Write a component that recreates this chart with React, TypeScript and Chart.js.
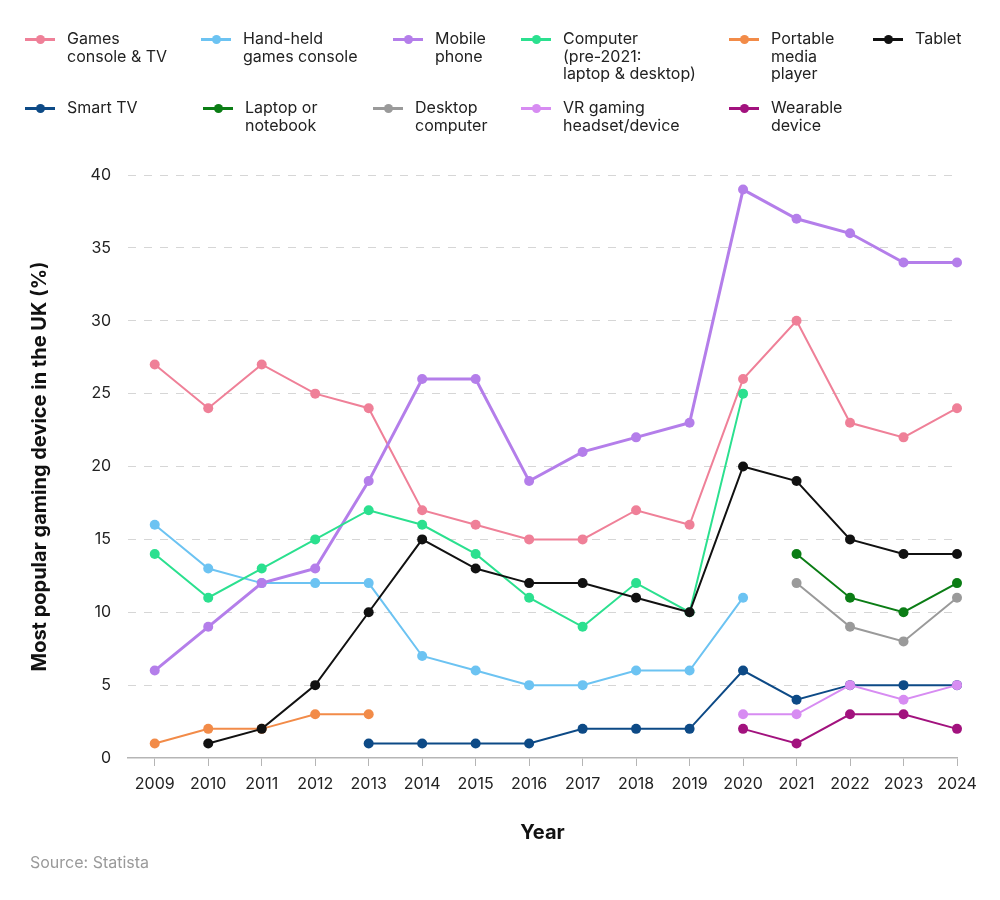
import React, { useEffect, useRef } from "react";
import { Chart, registerables } from "chart.js";

Chart.register(...registerables);

// Survey years on the x axis
const years = [2009, 2010, 2011, 2012, 2013, 2014, 2015, 2016, 2017, 2018, 2019, 2020, 2021, 2022, 2023, 2024];

// Share of respondents naming each device as their main gaming device (%)
const gamesConsoleTv = [27, 24, 27, 25, 24, 17, 16, 15, 15, 17, 16, 26, 30, 23, 22, 24];
const handHeldConsole = [16, 13, 12, 12, 12, 7, 6, 5, 5, 6, 6, 11, null, null, null, null];
const mobilePhone = [6, 9, 12, 13, 19, 26, 26, 19, 21, 22, 23, 39, 37, 36, 34, 34];
const computer = [14, 11, 13, 15, 17, 16, 14, 11, 9, 12, 10, 25, null, null, null, null];
const portableMediaPlayer = [1, 2, 2, 3, 3, null, null, null, null, null, null, null, null, null, null, null];
const tablet = [null, 1, 2, 5, 10, 15, 13, 12, 12, 11, 10, 20, 19, 15, 14, 14];
const smartTv = [null, null, null, null, 1, 1, 1, 1, 2, 2, 2, 6, 4, 5, 5, 5];
const laptop = [null, null, null, null, null, null, null, null, null, null, null, null, 14, 11, 10, 12];
const desktop = [null, null, null, null, null, null, null, null, null, null, null, null, 12, 9, 8, 11];
const vrHeadset = [null, null, null, null, null, null, null, null, null, null, null, 3, 3, 5, 4, 5];
const wearable = [null, null, null, null, null, null, null, null, null, null, null, 2, 1, 3, 3, 2];

const yTicks = [0, 5, 10, 15, 20, 25, 30, 35, 40];

type Series = { label: string[]; values: (number | null)[]; color: string; width?: number };

const series: Series[] = [
  { label: ["Games", "console & TV"], values: gamesConsoleTv, color: "#EF8098" },
  { label: ["Hand-held", "games console"], values: handHeldConsole, color: "#6CC3F2" },
  { label: ["Mobile", "phone"], values: mobilePhone, color: "#B47EEA", width: 3 },
  { label: ["Computer", "(pre-2021:", "laptop & desktop)"], values: computer, color: "#2BE08F" },
  { label: ["Portable", "media", "player"], values: portableMediaPlayer, color: "#F28B48" },
  { label: ["Tablet"], values: tablet, color: "#111111" },
  { label: ["Smart TV"], values: smartTv, color: "#0D4A86" },
  { label: ["Laptop or", "notebook"], values: laptop, color: "#0B7D15" },
  { label: ["Desktop", "computer"], values: desktop, color: "#9A9A9A" },
  { label: ["VR gaming", "headset/device"], values: vrHeadset, color: "#D78CF2" },
  { label: ["Wearable", "device"], values: wearable, color: "#A2127E" },
];

// Legend rows: text left edge for each item
const legendRows = [
  { top: 30, xs: [67, 243, 435, 563, 771, 915], items: [0, 1, 2, 3, 4, 5] },
  { top: 99, xs: [67, 245, 415, 563, 771], items: [6, 7, 8, 9, 10] },
];

const FONT = "Inter, 'Noto Sans', sans-serif";

function LegendItem({ s, left, top }: { s: Series; left: number; top: number }) {
  return (
    <div style={{ position: "absolute", left: left - 42, top }}>
      <div style={{ position: "absolute", left: 0, top: 8, width: 30, height: 3, background: s.color }} />
      <div
        style={{
          position: "absolute",
          left: 10.5,
          top: 5,
          width: 9,
          height: 9,
          borderRadius: 4.5,
          background: s.color,
        }}
      />
      <div
        style={{
          position: "absolute",
          left: 42,
          top: 0,
          whiteSpace: "nowrap",
          fontFamily: FONT,
          fontSize: 16,
          lineHeight: "17.5px",
          color: "#222",
        }}
      >
        {s.label.map((l, i) => (
          <div key={i}>{l}</div>
        ))}
      </div>
    </div>
  );
}

export default function App() {
  const canvasRef = useRef<HTMLCanvasElement | null>(null);

  useEffect(() => {
    const canvas = canvasRef.current;
    if (!canvas) return;
    const chart = new Chart(canvas, {
      type: "line",
      data: {
        datasets: series.map((s, i) => ({
          label: s.label.join(" "),
          data: years.map((y, j) => ({ x: y, y: s.values[j] })),
          borderColor: s.color,
          backgroundColor: s.color,
          borderWidth: s.width ?? 2,
          pointRadius: 5,
          pointHoverRadius: 5,
          pointBorderWidth: 0,
          spanGaps: false,
          tension: 0,
          clip: false,
          order: -i,
        })),
      },
      options: {
        responsive: false,
        animation: false,
        parsing: { xAxisKey: "x", yAxisKey: "y" },
        layout: { padding: { left: 0, top: 175, right: 43, bottom: 42 } },
        plugins: { legend: { display: false }, tooltip: { enabled: false } },
        scales: {
          x: {
            type: "linear",
            min: 2008.5,
            max: 2024,
            afterBuildTicks: (scale: any) => {
              scale.ticks = years.map((v) => ({ value: v }));
            },
            afterFit: (scale: any) => {
              scale.height = 100;
            },
            ticks: {
              autoSkip: false,
              maxRotation: 0,
              padding: 9,
              color: "#222",
              font: { family: FONT, size: 16 },
              callback: (v: any) => String(v),
            },
            grid: {
              drawOnChartArea: false,
              drawTicks: true,
              tickLength: 8,
              color: "#b5b5b5",
            },
            border: { display: true, color: "#b5b5b5", width: 1.5 },
            title: {
              display: true,
              text: "Year",
              color: "#111",
              font: { family: FONT, size: 20, weight: "bold" },
              padding: { top: 0, bottom: 13 },
            },
          },
          y: {
            type: "linear",
            min: 0,
            max: 40,
            afterBuildTicks: (scale: any) => {
              scale.ticks = yTicks.map((v) => ({ value: v }));
            },
            afterFit: (scale: any) => {
              scale.width = 128;
            },
            ticks: {
              padding: 17,
              color: "#222",
              font: { family: FONT, size: 16 },
            },
            grid: {
              drawTicks: false,
              color: (ctx: any) => (ctx.tick && ctx.tick.value === 0 ? "rgba(0,0,0,0)" : "#d6d6d6"),
              lineWidth: 1,
            },
            border: { display: false, dash: [8, 8] },
            title: {
              display: true,
              text: "Most popular gaming device in the UK (%)",
              color: "#111",
              font: { family: FONT, size: 20, weight: "bold" },
              padding: { top: 28, bottom: 0 },
            },
          },
        },
      } as any,
    });
    return () => chart.destroy();
  }, []);

  return (
    <div style={{ position: "absolute", left: 0, top: 0, width: 1000, height: 900, background: "#fff" }}>
      <canvas ref={canvasRef} width={1000} height={900} style={{ position: "absolute", left: 0, top: 0 }} />
      {legendRows.map((row, r) =>
        row.items.map((idx, k) => (
          <LegendItem key={`${r}-${k}`} s={series[idx]} left={row.xs[k]} top={row.top} />
        ))
      )}
      <div
        style={{
          position: "absolute",
          left: 30,
          top: 852,
          fontFamily: FONT,
          fontSize: 16,
          color: "#9a9a9a",
          whiteSpace: "nowrap",
        }}
      >
        Source: Statista
      </div>
    </div>
  );
}
